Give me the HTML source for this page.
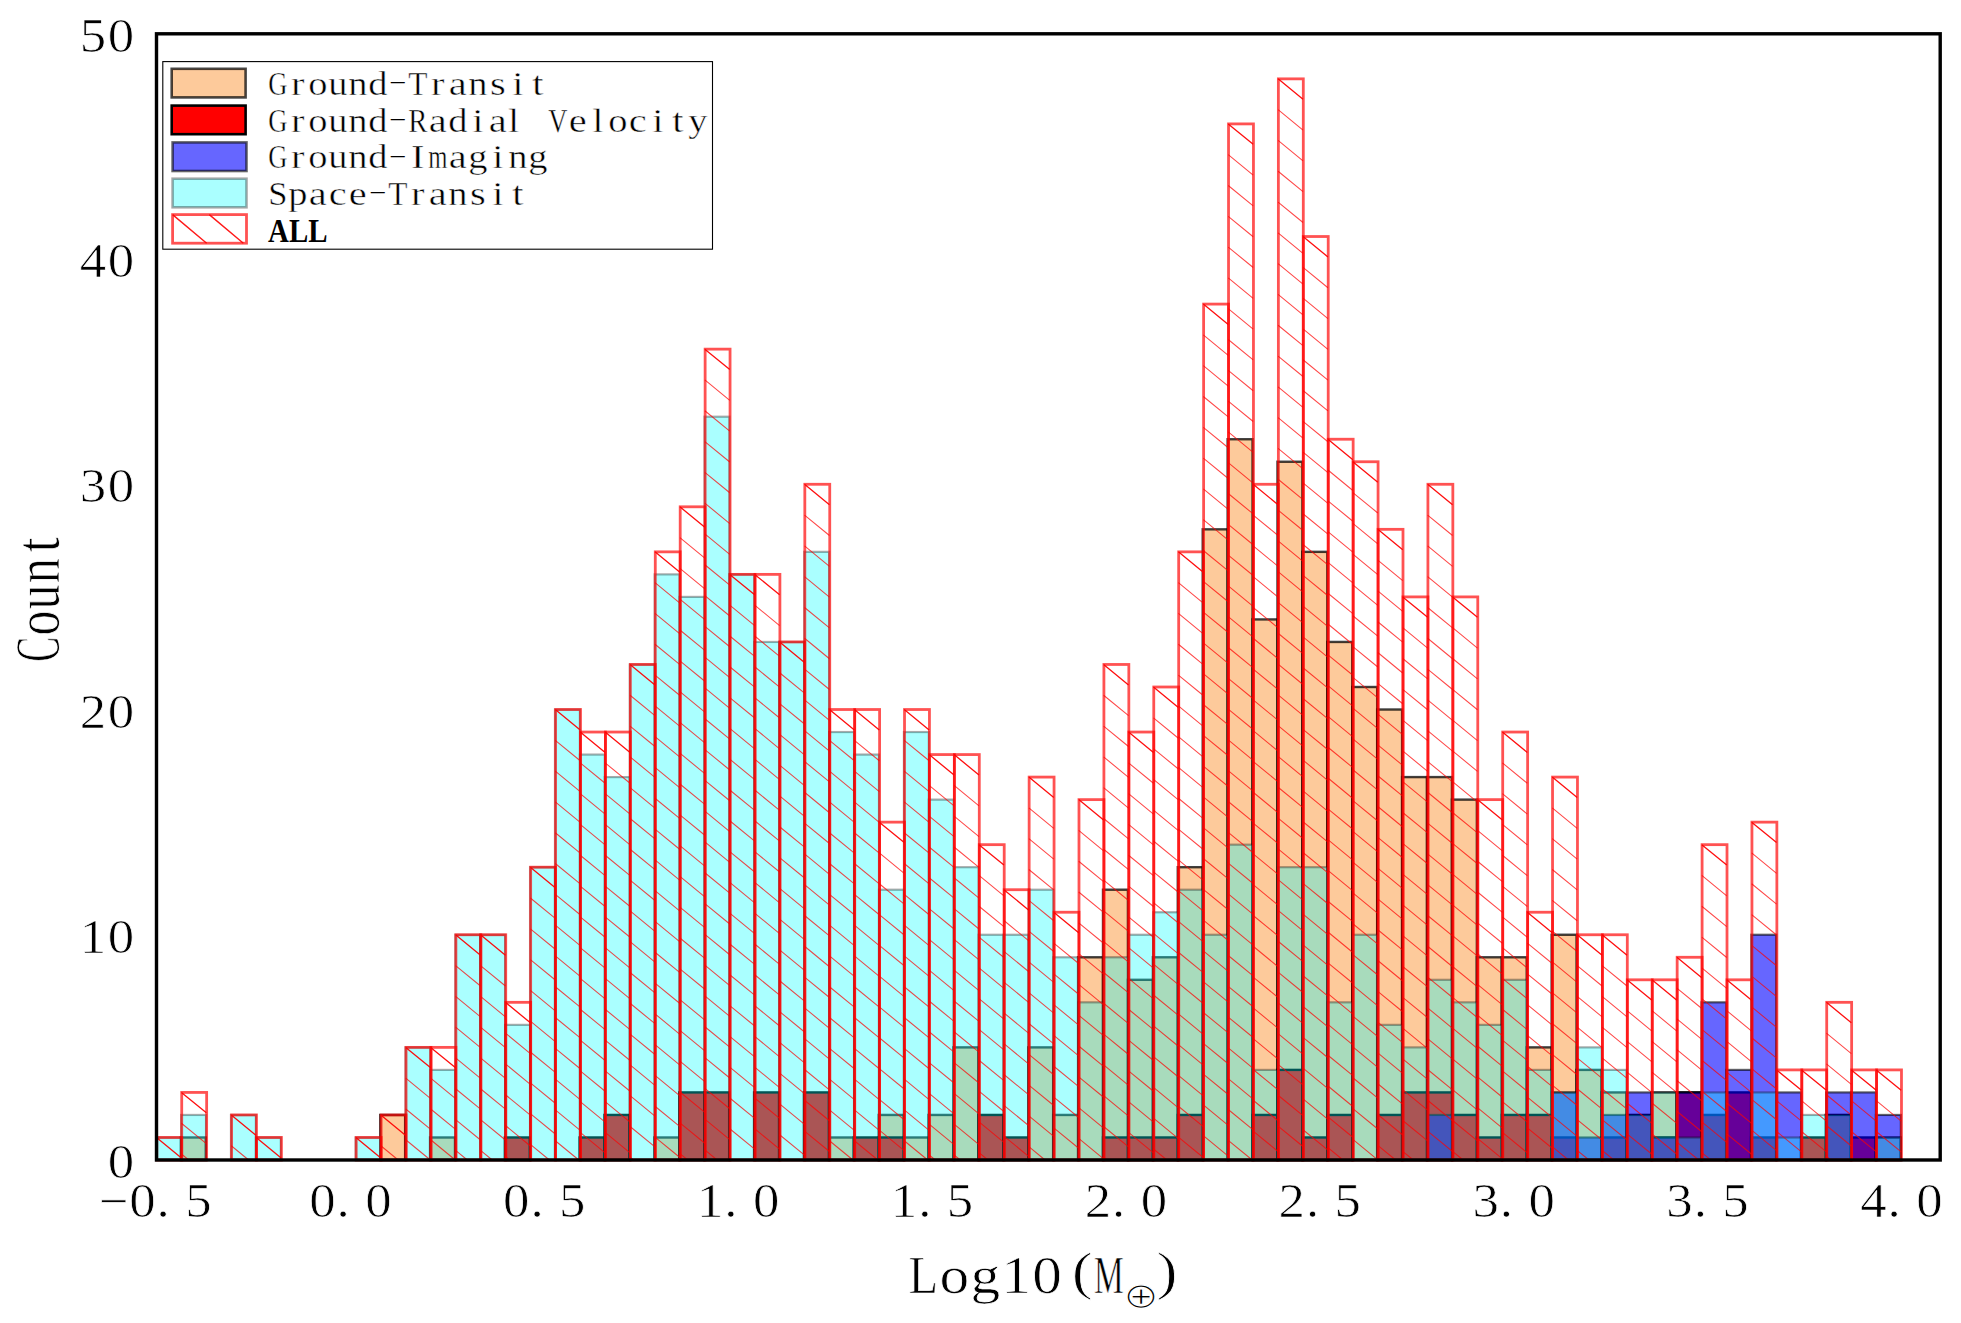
<!DOCTYPE html>
<html lang="en"><head><meta charset="utf-8"><title>Histogram</title><style>html,body{margin:0;padding:0;background:#fff}body{width:1961px;height:1323px;overflow:hidden}svg{display:block}</style></head><body>
<svg width="1961" height="1323" viewBox="0 0 1961 1323"><rect width="1961" height="1323" fill="#fff"/><g shape-rendering="auto"><g fill="#FDCA9B" stroke="rgba(0,0,0,0.75)" stroke-width="2.4"><rect x="180.82" y="1137.48" width="24.92" height="22.52"/><rect x="380.22" y="1114.95" width="24.92" height="45.05"/><rect x="430.06" y="1137.48" width="24.92" height="22.52"/><rect x="654.38" y="1137.48" width="24.92" height="22.52"/><rect x="828.85" y="1137.48" width="24.92" height="22.52"/><rect x="878.7" y="1114.95" width="24.92" height="45.05"/><rect x="903.62" y="1137.48" width="24.92" height="22.52"/><rect x="928.54" y="1114.95" width="24.92" height="45.05"/><rect x="953.47" y="1047.38" width="24.92" height="112.62"/><rect x="1028.24" y="1047.38" width="24.92" height="112.62"/><rect x="1053.16" y="1114.95" width="24.92" height="45.05"/><rect x="1078.09" y="957.28" width="24.92" height="202.72"/><rect x="1103.01" y="889.71" width="24.92" height="270.29"/><rect x="1127.94" y="979.81" width="24.92" height="180.19"/><rect x="1152.86" y="957.28" width="24.92" height="202.72"/><rect x="1177.78" y="867.19" width="24.92" height="292.81"/><rect x="1202.71" y="529.33" width="24.92" height="630.67"/><rect x="1227.63" y="439.23" width="24.92" height="720.77"/><rect x="1252.56" y="619.42" width="24.92" height="540.58"/><rect x="1277.48" y="461.76" width="24.92" height="698.24"/><rect x="1302.4" y="551.85" width="24.92" height="608.15"/><rect x="1327.33" y="641.95" width="24.92" height="518.05"/><rect x="1352.25" y="687" width="24.92" height="473"/><rect x="1377.18" y="709.52" width="24.92" height="450.48"/><rect x="1402.1" y="777.09" width="24.92" height="382.91"/><rect x="1427.02" y="777.09" width="24.92" height="382.91"/><rect x="1451.95" y="799.62" width="24.92" height="360.38"/><rect x="1476.87" y="957.28" width="24.92" height="202.72"/><rect x="1501.8" y="957.28" width="24.92" height="202.72"/><rect x="1526.72" y="1047.38" width="24.92" height="112.62"/><rect x="1551.64" y="934.76" width="24.92" height="225.24"/><rect x="1576.57" y="1069.9" width="24.92" height="90.1"/><rect x="1601.49" y="1092.43" width="24.92" height="67.57"/><rect x="1651.34" y="1092.43" width="24.92" height="67.57"/><rect x="1875.66" y="1137.48" width="24.92" height="22.52"/></g>
<g fill="#FF0000" stroke="#000" stroke-width="2.4"><rect x="504.84" y="1137.48" width="24.92" height="22.52"/><rect x="579.61" y="1137.48" width="24.92" height="22.52"/><rect x="604.53" y="1114.95" width="24.92" height="45.05"/><rect x="679.3" y="1092.43" width="24.92" height="67.57"/><rect x="704.23" y="1092.43" width="24.92" height="67.57"/><rect x="754.08" y="1092.43" width="24.92" height="67.57"/><rect x="803.92" y="1092.43" width="24.92" height="67.57"/><rect x="853.77" y="1137.48" width="24.92" height="22.52"/><rect x="878.7" y="1137.48" width="24.92" height="22.52"/><rect x="978.39" y="1114.95" width="24.92" height="45.05"/><rect x="1003.32" y="1137.48" width="24.92" height="22.52"/><rect x="1103.01" y="1137.48" width="24.92" height="22.52"/><rect x="1127.94" y="1137.48" width="24.92" height="22.52"/><rect x="1152.86" y="1137.48" width="24.92" height="22.52"/><rect x="1177.78" y="1114.95" width="24.92" height="45.05"/><rect x="1252.56" y="1114.95" width="24.92" height="45.05"/><rect x="1277.48" y="1069.9" width="24.92" height="90.1"/><rect x="1302.4" y="1137.48" width="24.92" height="22.52"/><rect x="1327.33" y="1114.95" width="24.92" height="45.05"/><rect x="1377.18" y="1114.95" width="24.92" height="45.05"/><rect x="1402.1" y="1092.43" width="24.92" height="67.57"/><rect x="1427.02" y="1092.43" width="24.92" height="67.57"/><rect x="1451.95" y="1114.95" width="24.92" height="45.05"/><rect x="1476.87" y="1137.48" width="24.92" height="22.52"/><rect x="1501.8" y="1114.95" width="24.92" height="45.05"/><rect x="1526.72" y="1114.95" width="24.92" height="45.05"/><rect x="1551.64" y="1137.48" width="24.92" height="22.52"/><rect x="1601.49" y="1137.48" width="24.92" height="22.52"/><rect x="1626.42" y="1114.95" width="24.92" height="45.05"/><rect x="1651.34" y="1137.48" width="24.92" height="22.52"/><rect x="1676.26" y="1092.43" width="24.92" height="67.57"/><rect x="1701.19" y="1114.95" width="24.92" height="45.05"/><rect x="1726.11" y="1092.43" width="24.92" height="67.57"/><rect x="1751.04" y="1137.48" width="24.92" height="22.52"/><rect x="1800.88" y="1137.48" width="24.92" height="22.52"/><rect x="1825.81" y="1114.95" width="24.92" height="45.05"/><rect x="1850.73" y="1137.48" width="24.92" height="22.52"/></g>
<g fill="rgba(0,0,255,0.6)" stroke="rgba(0,0,0,0.6)" stroke-width="2.2"><rect x="1427.32" y="1114.95" width="24.92" height="45.05"/><rect x="1551.94" y="1092.43" width="24.92" height="67.57"/><rect x="1576.87" y="1137.48" width="24.92" height="22.52"/><rect x="1601.79" y="1114.95" width="24.92" height="45.05"/><rect x="1626.72" y="1092.43" width="24.92" height="67.57"/><rect x="1651.64" y="1137.48" width="24.92" height="22.52"/><rect x="1676.56" y="1092.43" width="24.92" height="67.57"/><rect x="1701.49" y="1002.33" width="24.92" height="157.67"/><rect x="1726.41" y="1069.9" width="24.92" height="90.1"/><rect x="1751.34" y="934.76" width="24.92" height="225.24"/><rect x="1776.26" y="1092.43" width="24.92" height="67.57"/><rect x="1826.11" y="1092.43" width="24.92" height="67.57"/><rect x="1851.03" y="1092.43" width="24.92" height="67.57"/><rect x="1875.96" y="1114.95" width="24.92" height="45.05"/></g>
<g fill="rgba(0,255,255,0.333)" stroke="rgba(0,0,0,0.333)" stroke-width="2.2"><rect x="156.2" y="1137.48" width="24.92" height="22.52"/><rect x="181.12" y="1114.95" width="24.92" height="45.05"/><rect x="230.97" y="1114.95" width="24.92" height="45.05"/><rect x="255.9" y="1137.48" width="24.92" height="22.52"/><rect x="355.59" y="1137.48" width="24.92" height="22.52"/><rect x="405.44" y="1047.38" width="24.92" height="112.62"/><rect x="430.36" y="1069.9" width="24.92" height="90.1"/><rect x="455.29" y="934.76" width="24.92" height="225.24"/><rect x="480.21" y="934.76" width="24.92" height="225.24"/><rect x="505.14" y="1024.86" width="24.92" height="135.14"/><rect x="530.06" y="867.19" width="24.92" height="292.81"/><rect x="554.98" y="709.52" width="24.92" height="450.48"/><rect x="579.91" y="754.57" width="24.92" height="405.43"/><rect x="604.83" y="777.09" width="24.92" height="382.91"/><rect x="629.76" y="664.47" width="24.92" height="495.53"/><rect x="654.68" y="574.38" width="24.92" height="585.62"/><rect x="679.6" y="596.9" width="24.92" height="563.1"/><rect x="704.53" y="416.71" width="24.92" height="743.29"/><rect x="729.45" y="574.38" width="24.92" height="585.62"/><rect x="754.38" y="641.95" width="24.92" height="518.05"/><rect x="779.3" y="641.95" width="24.92" height="518.05"/><rect x="804.22" y="551.85" width="24.92" height="608.15"/><rect x="829.15" y="732.04" width="24.92" height="427.96"/><rect x="854.07" y="754.57" width="24.92" height="405.43"/><rect x="879" y="889.71" width="24.92" height="270.29"/><rect x="903.92" y="732.04" width="24.92" height="427.96"/><rect x="928.84" y="799.62" width="24.92" height="360.38"/><rect x="953.77" y="867.19" width="24.92" height="292.81"/><rect x="978.69" y="934.76" width="24.92" height="225.24"/><rect x="1003.62" y="934.76" width="24.92" height="225.24"/><rect x="1028.54" y="889.71" width="24.92" height="270.29"/><rect x="1053.46" y="957.28" width="24.92" height="202.72"/><rect x="1078.39" y="1002.33" width="24.92" height="157.67"/><rect x="1103.31" y="957.28" width="24.92" height="202.72"/><rect x="1128.24" y="934.76" width="24.92" height="225.24"/><rect x="1153.16" y="912.24" width="24.92" height="247.76"/><rect x="1178.08" y="889.71" width="24.92" height="270.29"/><rect x="1203.01" y="934.76" width="24.92" height="225.24"/><rect x="1227.93" y="844.66" width="24.92" height="315.34"/><rect x="1252.86" y="1069.9" width="24.92" height="90.1"/><rect x="1277.78" y="867.19" width="24.92" height="292.81"/><rect x="1302.7" y="867.19" width="24.92" height="292.81"/><rect x="1327.63" y="1002.33" width="24.92" height="157.67"/><rect x="1352.55" y="934.76" width="24.92" height="225.24"/><rect x="1377.48" y="1024.86" width="24.92" height="135.14"/><rect x="1402.4" y="1047.38" width="24.92" height="112.62"/><rect x="1427.32" y="979.81" width="24.92" height="180.19"/><rect x="1452.25" y="1002.33" width="24.92" height="157.67"/><rect x="1477.17" y="1024.86" width="24.92" height="135.14"/><rect x="1502.1" y="979.81" width="24.92" height="180.19"/><rect x="1527.02" y="1069.9" width="24.92" height="90.1"/><rect x="1551.94" y="1092.43" width="24.92" height="67.57"/><rect x="1576.87" y="1047.38" width="24.92" height="112.62"/><rect x="1601.79" y="1069.9" width="24.92" height="90.1"/><rect x="1626.72" y="1114.95" width="24.92" height="45.05"/><rect x="1651.64" y="1092.43" width="24.92" height="67.57"/><rect x="1676.56" y="1137.48" width="24.92" height="22.52"/><rect x="1701.49" y="1092.43" width="24.92" height="67.57"/><rect x="1751.34" y="1092.43" width="24.92" height="67.57"/><rect x="1776.26" y="1137.48" width="24.92" height="22.52"/><rect x="1801.18" y="1114.95" width="24.92" height="45.05"/><rect x="1826.11" y="1114.95" width="24.92" height="45.05"/><rect x="1875.96" y="1137.48" width="24.92" height="22.52"/></g>
<path d="M156.5 1137.48L181.42 1157.91M181.42 1092.43L206.35 1112.87M231.27 1114.95L256.2 1135.39M256.2 1137.48L281.12 1157.91M355.89 1137.48L380.82 1157.91M380.82 1114.95L405.74 1135.39M405.74 1047.38L430.66 1067.82M430.66 1047.38L455.59 1067.82M455.59 934.76L480.51 955.2M480.51 934.76L505.44 955.2M505.44 1002.33L530.36 1022.77M530.36 867.19L555.28 887.63M555.28 709.52L580.21 729.96M580.21 732.04L605.13 752.48M605.13 732.04L630.06 752.48M630.06 664.47L654.98 684.91M654.98 551.85L679.9 572.29M679.9 506.8L704.83 527.24M704.83 349.14L729.75 369.57M729.75 574.38L754.68 594.81M754.68 574.38L779.6 594.81M779.6 641.95L804.52 662.39M804.52 484.28L829.45 504.72M829.45 709.52L854.37 729.96M854.37 709.52L879.3 729.96M879.3 822.14L904.22 842.58M904.22 709.52L929.14 729.96M929.14 754.57L954.07 775.01M954.07 754.57L978.99 775.01M978.99 844.66L1003.92 865.1M1003.92 889.71L1028.84 910.15M1028.84 777.09L1053.76 797.53M1053.76 912.24L1078.69 932.67M1078.69 799.62L1103.61 820.05M1103.61 664.47L1128.54 684.91M1128.54 732.04L1153.46 752.48M1153.46 687L1178.38 707.43M1178.38 551.85L1203.31 572.29M1203.31 304.09L1228.23 324.53M1228.23 123.9L1253.16 144.33M1253.16 484.28L1278.08 504.72M1278.08 78.85L1303 99.29M1303 236.52L1327.93 256.95M1327.93 439.23L1352.85 459.67M1352.85 461.76L1377.78 482.19M1377.78 529.33L1402.7 549.77M1402.7 596.9L1427.62 617.34M1427.62 484.28L1452.55 504.72M1452.55 596.9L1477.47 617.34M1477.47 799.62L1502.4 820.05M1502.4 732.04L1527.32 752.48M1527.32 912.24L1552.24 932.67M1552.24 777.09L1577.17 797.53M1577.17 934.76L1602.09 955.2M1602.09 934.76L1627.02 955.2M1627.02 979.81L1651.94 1000.25M1651.94 979.81L1676.86 1000.25M1676.86 957.28L1701.79 977.72M1701.79 844.66L1726.71 865.1M1726.71 979.81L1751.64 1000.25M1751.64 822.14L1776.56 842.58M1776.56 1069.9L1801.48 1090.34M1801.48 1069.9L1826.41 1090.34M1826.41 1002.33L1851.33 1022.77M1851.33 1069.9L1876.26 1090.34M1876.26 1069.9L1901.18 1090.34" fill="none" stroke="rgba(255,0,0,0.95)" stroke-width="1.3"/>
<path d="M181.42 1123.23L206.35 1143.67M181.42 1154.03L188.71 1160M231.27 1145.75L248.65 1160M380.82 1145.75L398.19 1160M405.74 1078.18L430.66 1098.62M405.74 1108.98L430.66 1129.42M405.74 1139.78L430.4 1160M430.66 1078.18L455.59 1098.62M430.66 1108.98L455.59 1129.42M430.66 1139.78L455.32 1160M455.59 965.56L480.51 986M455.59 996.36L480.51 1016.8M455.59 1027.16L480.51 1047.6M455.59 1057.96L480.51 1078.4M455.59 1088.76L480.51 1109.2M455.59 1119.56L480.51 1140M455.59 1150.36L467.34 1160M480.51 965.56L505.44 986M480.51 996.36L505.44 1016.8M480.51 1027.16L505.44 1047.6M480.51 1057.96L505.44 1078.4M480.51 1088.76L505.44 1109.2M480.51 1119.56L505.44 1140M480.51 1150.36L492.27 1160M505.44 1033.13L530.36 1053.57M505.44 1063.93L530.36 1084.37M505.44 1094.73L530.36 1115.17M505.44 1125.53L530.36 1145.97M505.44 1156.33L509.91 1160M530.36 897.99L555.28 918.43M530.36 928.79L555.28 949.23M530.36 959.59L555.28 980.03M530.36 990.39L555.28 1010.83M530.36 1021.19L555.28 1041.63M530.36 1051.99L555.28 1072.43M530.36 1082.79L555.28 1103.23M530.36 1113.59L555.28 1134.03M530.36 1144.39L549.4 1160M555.28 740.32L580.21 760.76M555.28 771.12L580.21 791.56M555.28 801.92L580.21 822.36M555.28 832.72L580.21 853.16M555.28 863.52L580.21 883.96M555.28 894.32L580.21 914.76M555.28 925.12L580.21 945.56M555.28 955.92L580.21 976.36M555.28 986.72L580.21 1007.16M555.28 1017.52L580.21 1037.96M555.28 1048.32L580.21 1068.76M555.28 1079.12L580.21 1099.56M555.28 1109.92L580.21 1130.36M555.28 1140.72L578.8 1160M580.21 762.84L605.13 783.28M580.21 793.64L605.13 814.08M580.21 824.44L605.13 844.88M580.21 855.24L605.13 875.68M580.21 886.04L605.13 906.48M580.21 916.84L605.13 937.28M580.21 947.64L605.13 968.08M580.21 978.44L605.13 998.88M580.21 1009.24L605.13 1029.68M580.21 1040.04L605.13 1060.48M580.21 1070.84L605.13 1091.28M580.21 1101.64L605.13 1122.08M580.21 1132.44L605.13 1152.88M605.13 762.84L630.06 783.28M605.13 793.64L630.06 814.08M605.13 824.44L630.06 844.88M605.13 855.24L630.06 875.68M605.13 886.04L630.06 906.48M605.13 916.84L630.06 937.28M605.13 947.64L630.06 968.08M605.13 978.44L630.06 998.88M605.13 1009.24L630.06 1029.68M605.13 1040.04L630.06 1060.48M605.13 1070.84L630.06 1091.28M605.13 1101.64L630.06 1122.08M605.13 1132.44L630.06 1152.88M630.06 695.27L654.98 715.71M630.06 726.07L654.98 746.51M630.06 756.87L654.98 777.31M630.06 787.67L654.98 808.11M630.06 818.47L654.98 838.91M630.06 849.27L654.98 869.71M630.06 880.07L654.98 900.51M630.06 910.87L654.98 931.31M630.06 941.67L654.98 962.11M630.06 972.47L654.98 992.91M630.06 1003.27L654.98 1023.71M630.06 1034.07L654.98 1054.51M630.06 1064.87L654.98 1085.31M630.06 1095.67L654.98 1116.11M630.06 1126.47L654.98 1146.91M630.06 1157.27L633.38 1160M654.98 582.65L679.9 603.09M654.98 613.45L679.9 633.89M654.98 644.25L679.9 664.69M654.98 675.05L679.9 695.49M654.98 705.85L679.9 726.29M654.98 736.65L679.9 757.09M654.98 767.45L679.9 787.89M654.98 798.25L679.9 818.69M654.98 829.05L679.9 849.49M654.98 859.85L679.9 880.29M654.98 890.65L679.9 911.09M654.98 921.45L679.9 941.89M654.98 952.25L679.9 972.69M654.98 983.05L679.9 1003.49M654.98 1013.85L679.9 1034.29M654.98 1044.65L679.9 1065.09M654.98 1075.45L679.9 1095.89M654.98 1106.25L679.9 1126.69M654.98 1137.05L679.9 1157.49M679.9 537.6L704.83 558.04M679.9 568.4L704.83 588.84M679.9 599.2L704.83 619.64M679.9 630L704.83 650.44M679.9 660.8L704.83 681.24M679.9 691.6L704.83 712.04M679.9 722.4L704.83 742.84M679.9 753.2L704.83 773.64M679.9 784L704.83 804.44M679.9 814.8L704.83 835.24M679.9 845.6L704.83 866.04M679.9 876.4L704.83 896.84M679.9 907.2L704.83 927.64M679.9 938L704.83 958.44M679.9 968.8L704.83 989.24M679.9 999.6L704.83 1020.04M679.9 1030.4L704.83 1050.84M679.9 1061.2L704.83 1081.64M679.9 1092L704.83 1112.44M679.9 1122.8L704.83 1143.24M679.9 1153.6L687.7 1160M704.83 379.94L729.75 400.37M704.83 410.74L729.75 431.17M704.83 441.54L729.75 461.97M704.83 472.34L729.75 492.77M704.83 503.14L729.75 523.57M704.83 533.94L729.75 554.37M704.83 564.74L729.75 585.17M704.83 595.54L729.75 615.97M704.83 626.34L729.75 646.77M704.83 657.14L729.75 677.57M704.83 687.94L729.75 708.37M704.83 718.74L729.75 739.17M704.83 749.54L729.75 769.97M704.83 780.34L729.75 800.77M704.83 811.14L729.75 831.57M704.83 841.94L729.75 862.37M704.83 872.74L729.75 893.17M704.83 903.54L729.75 923.97M704.83 934.34L729.75 954.77M704.83 965.14L729.75 985.57M704.83 995.94L729.75 1016.37M704.83 1026.74L729.75 1047.17M704.83 1057.54L729.75 1077.97M704.83 1088.34L729.75 1108.77M704.83 1119.14L729.75 1139.57M704.83 1149.94L717.1 1160M729.75 605.18L754.68 625.61M729.75 635.98L754.68 656.41M729.75 666.78L754.68 687.21M729.75 697.58L754.68 718.01M729.75 728.38L754.68 748.81M729.75 759.18L754.68 779.61M729.75 789.98L754.68 810.41M729.75 820.78L754.68 841.21M729.75 851.58L754.68 872.01M729.75 882.38L754.68 902.81M729.75 913.18L754.68 933.61M729.75 943.98L754.68 964.41M729.75 974.78L754.68 995.21M729.75 1005.58L754.68 1026.01M729.75 1036.38L754.68 1056.81M729.75 1067.18L754.68 1087.61M729.75 1097.98L754.68 1118.41M729.75 1128.78L754.68 1149.21M729.75 1159.58L730.27 1160M754.68 605.18L779.6 625.61M754.68 635.98L779.6 656.41M754.68 666.78L779.6 687.21M754.68 697.58L779.6 718.01M754.68 728.38L779.6 748.81M754.68 759.18L779.6 779.61M754.68 789.98L779.6 810.41M754.68 820.78L779.6 841.21M754.68 851.58L779.6 872.01M754.68 882.38L779.6 902.81M754.68 913.18L779.6 933.61M754.68 943.98L779.6 964.41M754.68 974.78L779.6 995.21M754.68 1005.58L779.6 1026.01M754.68 1036.38L779.6 1056.81M754.68 1067.18L779.6 1087.61M754.68 1097.98L779.6 1118.41M754.68 1128.78L779.6 1149.21M754.68 1159.58L755.19 1160M779.6 672.75L804.52 693.19M779.6 703.55L804.52 723.99M779.6 734.35L804.52 754.79M779.6 765.15L804.52 785.59M779.6 795.95L804.52 816.39M779.6 826.75L804.52 847.19M779.6 857.55L804.52 877.99M779.6 888.35L804.52 908.79M779.6 919.15L804.52 939.59M779.6 949.95L804.52 970.39M779.6 980.75L804.52 1001.19M779.6 1011.55L804.52 1031.99M779.6 1042.35L804.52 1062.79M779.6 1073.15L804.52 1093.59M779.6 1103.95L804.52 1124.39M779.6 1134.75L804.52 1155.19M804.52 515.08L829.45 535.52M804.52 545.88L829.45 566.32M804.52 576.68L829.45 597.12M804.52 607.48L829.45 627.92M804.52 638.28L829.45 658.72M804.52 669.08L829.45 689.52M804.52 699.88L829.45 720.32M804.52 730.68L829.45 751.12M804.52 761.48L829.45 781.92M804.52 792.28L829.45 812.72M804.52 823.08L829.45 843.52M804.52 853.88L829.45 874.32M804.52 884.68L829.45 905.12M804.52 915.48L829.45 935.92M804.52 946.28L829.45 966.72M804.52 977.08L829.45 997.52M804.52 1007.88L829.45 1028.32M804.52 1038.68L829.45 1059.12M804.52 1069.48L829.45 1089.92M804.52 1100.28L829.45 1120.72M804.52 1131.08L829.45 1151.52M829.45 740.32L854.37 760.76M829.45 771.12L854.37 791.56M829.45 801.92L854.37 822.36M829.45 832.72L854.37 853.16M829.45 863.52L854.37 883.96M829.45 894.32L854.37 914.76M829.45 925.12L854.37 945.56M829.45 955.92L854.37 976.36M829.45 986.72L854.37 1007.16M829.45 1017.52L854.37 1037.96M829.45 1048.32L854.37 1068.76M829.45 1079.12L854.37 1099.56M829.45 1109.92L854.37 1130.36M829.45 1140.72L852.96 1160M854.37 740.32L879.3 760.76M854.37 771.12L879.3 791.56M854.37 801.92L879.3 822.36M854.37 832.72L879.3 853.16M854.37 863.52L879.3 883.96M854.37 894.32L879.3 914.76M854.37 925.12L879.3 945.56M854.37 955.92L879.3 976.36M854.37 986.72L879.3 1007.16M854.37 1017.52L879.3 1037.96M854.37 1048.32L879.3 1068.76M854.37 1079.12L879.3 1099.56M854.37 1109.92L879.3 1130.36M854.37 1140.72L877.88 1160M879.3 852.94L904.22 873.38M879.3 883.74L904.22 904.18M879.3 914.54L904.22 934.98M879.3 945.34L904.22 965.78M879.3 976.14L904.22 996.58M879.3 1006.94L904.22 1027.38M879.3 1037.74L904.22 1058.18M879.3 1068.54L904.22 1088.98M879.3 1099.34L904.22 1119.78M879.3 1130.14L904.22 1150.58M904.22 740.32L929.14 760.76M904.22 771.12L929.14 791.56M904.22 801.92L929.14 822.36M904.22 832.72L929.14 853.16M904.22 863.52L929.14 883.96M904.22 894.32L929.14 914.76M904.22 925.12L929.14 945.56M904.22 955.92L929.14 976.36M904.22 986.72L929.14 1007.16M904.22 1017.52L929.14 1037.96M904.22 1048.32L929.14 1068.76M904.22 1079.12L929.14 1099.56M904.22 1109.92L929.14 1130.36M904.22 1140.72L927.73 1160M929.14 785.37L954.07 805.81M929.14 816.17L954.07 836.61M929.14 846.97L954.07 867.41M929.14 877.77L954.07 898.21M929.14 908.57L954.07 929.01M929.14 939.37L954.07 959.81M929.14 970.17L954.07 990.61M929.14 1000.97L954.07 1021.41M929.14 1031.77L954.07 1052.21M929.14 1062.57L954.07 1083.01M929.14 1093.37L954.07 1113.81M929.14 1124.17L954.07 1144.61M929.14 1154.97L935.28 1160M954.07 785.37L978.99 805.81M954.07 816.17L978.99 836.61M954.07 846.97L978.99 867.41M954.07 877.77L978.99 898.21M954.07 908.57L978.99 929.01M954.07 939.37L978.99 959.81M954.07 970.17L978.99 990.61M954.07 1000.97L978.99 1021.41M954.07 1031.77L978.99 1052.21M954.07 1062.57L978.99 1083.01M954.07 1093.37L978.99 1113.81M954.07 1124.17L978.99 1144.61M954.07 1154.97L960.2 1160M978.99 875.46L1003.92 895.9M978.99 906.26L1003.92 926.7M978.99 937.06L1003.92 957.5M978.99 967.86L1003.92 988.3M978.99 998.66L1003.92 1019.1M978.99 1029.46L1003.92 1049.9M978.99 1060.26L1003.92 1080.7M978.99 1091.06L1003.92 1111.5M978.99 1121.86L1003.92 1142.3M978.99 1152.66L987.94 1160M1003.92 920.51L1028.84 940.95M1003.92 951.31L1028.84 971.75M1003.92 982.11L1028.84 1002.55M1003.92 1012.91L1028.84 1033.35M1003.92 1043.71L1028.84 1064.15M1003.92 1074.51L1028.84 1094.95M1003.92 1105.31L1028.84 1125.75M1003.92 1136.11L1028.84 1156.55M1028.84 807.89L1053.76 828.33M1028.84 838.69L1053.76 859.13M1028.84 869.49L1053.76 889.93M1028.84 900.29L1053.76 920.73M1028.84 931.09L1053.76 951.53M1028.84 961.89L1053.76 982.33M1028.84 992.69L1053.76 1013.13M1028.84 1023.49L1053.76 1043.93M1028.84 1054.29L1053.76 1074.73M1028.84 1085.09L1053.76 1105.53M1028.84 1115.89L1053.76 1136.33M1028.84 1146.69L1045.07 1160M1053.76 943.04L1078.69 963.47M1053.76 973.84L1078.69 994.27M1053.76 1004.64L1078.69 1025.07M1053.76 1035.44L1078.69 1055.87M1053.76 1066.24L1078.69 1086.67M1053.76 1097.04L1078.69 1117.47M1053.76 1127.84L1078.69 1148.27M1053.76 1158.64L1055.43 1160M1078.69 830.42L1103.61 850.85M1078.69 861.22L1103.61 881.65M1078.69 892.02L1103.61 912.45M1078.69 922.82L1103.61 943.25M1078.69 953.62L1103.61 974.05M1078.69 984.42L1103.61 1004.85M1078.69 1015.22L1103.61 1035.65M1078.69 1046.02L1103.61 1066.45M1078.69 1076.82L1103.61 1097.25M1078.69 1107.62L1103.61 1128.05M1078.69 1138.42L1103.61 1158.85M1103.61 695.27L1128.54 715.71M1103.61 726.07L1128.54 746.51M1103.61 756.87L1128.54 777.31M1103.61 787.67L1128.54 808.11M1103.61 818.47L1128.54 838.91M1103.61 849.27L1128.54 869.71M1103.61 880.07L1128.54 900.51M1103.61 910.87L1128.54 931.31M1103.61 941.67L1128.54 962.11M1103.61 972.47L1128.54 992.91M1103.61 1003.27L1128.54 1023.71M1103.61 1034.07L1128.54 1054.51M1103.61 1064.87L1128.54 1085.31M1103.61 1095.67L1128.54 1116.11M1103.61 1126.47L1128.54 1146.91M1103.61 1157.27L1106.94 1160M1128.54 762.84L1153.46 783.28M1128.54 793.64L1153.46 814.08M1128.54 824.44L1153.46 844.88M1128.54 855.24L1153.46 875.68M1128.54 886.04L1153.46 906.48M1128.54 916.84L1153.46 937.28M1128.54 947.64L1153.46 968.08M1128.54 978.44L1153.46 998.88M1128.54 1009.24L1153.46 1029.68M1128.54 1040.04L1153.46 1060.48M1128.54 1070.84L1153.46 1091.28M1128.54 1101.64L1153.46 1122.08M1128.54 1132.44L1153.46 1152.88M1153.46 717.8L1178.38 738.23M1153.46 748.6L1178.38 769.03M1153.46 779.4L1178.38 799.83M1153.46 810.2L1178.38 830.63M1153.46 841L1178.38 861.43M1153.46 871.8L1178.38 892.23M1153.46 902.6L1178.38 923.03M1153.46 933.4L1178.38 953.83M1153.46 964.2L1178.38 984.63M1153.46 995L1178.38 1015.43M1153.46 1025.8L1178.38 1046.23M1153.46 1056.6L1178.38 1077.03M1153.46 1087.4L1178.38 1107.83M1153.46 1118.2L1178.38 1138.63M1153.46 1149L1166.88 1160M1178.38 582.65L1203.31 603.09M1178.38 613.45L1203.31 633.89M1178.38 644.25L1203.31 664.69M1178.38 675.05L1203.31 695.49M1178.38 705.85L1203.31 726.29M1178.38 736.65L1203.31 757.09M1178.38 767.45L1203.31 787.89M1178.38 798.25L1203.31 818.69M1178.38 829.05L1203.31 849.49M1178.38 859.85L1203.31 880.29M1178.38 890.65L1203.31 911.09M1178.38 921.45L1203.31 941.89M1178.38 952.25L1203.31 972.69M1178.38 983.05L1203.31 1003.49M1178.38 1013.85L1203.31 1034.29M1178.38 1044.65L1203.31 1065.09M1178.38 1075.45L1203.31 1095.89M1178.38 1106.25L1203.31 1126.69M1178.38 1137.05L1203.31 1157.49M1203.31 334.89L1228.23 355.33M1203.31 365.69L1228.23 386.13M1203.31 396.49L1228.23 416.93M1203.31 427.29L1228.23 447.73M1203.31 458.09L1228.23 478.53M1203.31 488.89L1228.23 509.33M1203.31 519.69L1228.23 540.13M1203.31 550.49L1228.23 570.93M1203.31 581.29L1228.23 601.73M1203.31 612.09L1228.23 632.53M1203.31 642.89L1228.23 663.33M1203.31 673.69L1228.23 694.13M1203.31 704.49L1228.23 724.93M1203.31 735.29L1228.23 755.73M1203.31 766.09L1228.23 786.53M1203.31 796.89L1228.23 817.33M1203.31 827.69L1228.23 848.13M1203.31 858.49L1228.23 878.93M1203.31 889.29L1228.23 909.73M1203.31 920.09L1228.23 940.53M1203.31 950.89L1228.23 971.33M1203.31 981.69L1228.23 1002.13M1203.31 1012.49L1228.23 1032.93M1203.31 1043.29L1228.23 1063.73M1203.31 1074.09L1228.23 1094.53M1203.31 1104.89L1228.23 1125.33M1203.31 1135.69L1228.23 1156.13M1228.23 154.7L1253.16 175.13M1228.23 185.5L1253.16 205.93M1228.23 216.3L1253.16 236.73M1228.23 247.1L1253.16 267.53M1228.23 277.9L1253.16 298.33M1228.23 308.7L1253.16 329.13M1228.23 339.5L1253.16 359.93M1228.23 370.3L1253.16 390.73M1228.23 401.1L1253.16 421.53M1228.23 431.9L1253.16 452.33M1228.23 462.7L1253.16 483.13M1228.23 493.5L1253.16 513.93M1228.23 524.3L1253.16 544.73M1228.23 555.1L1253.16 575.53M1228.23 585.9L1253.16 606.33M1228.23 616.7L1253.16 637.13M1228.23 647.5L1253.16 667.93M1228.23 678.3L1253.16 698.73M1228.23 709.1L1253.16 729.53M1228.23 739.9L1253.16 760.33M1228.23 770.7L1253.16 791.13M1228.23 801.5L1253.16 821.93M1228.23 832.3L1253.16 852.73M1228.23 863.1L1253.16 883.53M1228.23 893.9L1253.16 914.33M1228.23 924.7L1253.16 945.13M1228.23 955.5L1253.16 975.93M1228.23 986.3L1253.16 1006.73M1228.23 1017.1L1253.16 1037.53M1228.23 1047.9L1253.16 1068.33M1228.23 1078.7L1253.16 1099.13M1228.23 1109.5L1253.16 1129.93M1228.23 1140.3L1252.26 1160M1253.16 515.08L1278.08 535.52M1253.16 545.88L1278.08 566.32M1253.16 576.68L1278.08 597.12M1253.16 607.48L1278.08 627.92M1253.16 638.28L1278.08 658.72M1253.16 669.08L1278.08 689.52M1253.16 699.88L1278.08 720.32M1253.16 730.68L1278.08 751.12M1253.16 761.48L1278.08 781.92M1253.16 792.28L1278.08 812.72M1253.16 823.08L1278.08 843.52M1253.16 853.88L1278.08 874.32M1253.16 884.68L1278.08 905.12M1253.16 915.48L1278.08 935.92M1253.16 946.28L1278.08 966.72M1253.16 977.08L1278.08 997.52M1253.16 1007.88L1278.08 1028.32M1253.16 1038.68L1278.08 1059.12M1253.16 1069.48L1278.08 1089.92M1253.16 1100.28L1278.08 1120.72M1253.16 1131.08L1278.08 1151.52M1278.08 109.65L1303 130.09M1278.08 140.45L1303 160.89M1278.08 171.25L1303 191.69M1278.08 202.05L1303 222.49M1278.08 232.85L1303 253.29M1278.08 263.65L1303 284.09M1278.08 294.45L1303 314.89M1278.08 325.25L1303 345.69M1278.08 356.05L1303 376.49M1278.08 386.85L1303 407.29M1278.08 417.65L1303 438.09M1278.08 448.45L1303 468.89M1278.08 479.25L1303 499.69M1278.08 510.05L1303 530.49M1278.08 540.85L1303 561.29M1278.08 571.65L1303 592.09M1278.08 602.45L1303 622.89M1278.08 633.25L1303 653.69M1278.08 664.05L1303 684.49M1278.08 694.85L1303 715.29M1278.08 725.65L1303 746.09M1278.08 756.45L1303 776.89M1278.08 787.25L1303 807.69M1278.08 818.05L1303 838.49M1278.08 848.85L1303 869.29M1278.08 879.65L1303 900.09M1278.08 910.45L1303 930.89M1278.08 941.25L1303 961.69M1278.08 972.05L1303 992.49M1278.08 1002.85L1303 1023.29M1278.08 1033.65L1303 1054.09M1278.08 1064.45L1303 1084.89M1278.08 1095.25L1303 1115.69M1278.08 1126.05L1303 1146.49M1278.08 1156.85L1281.92 1160M1303 267.32L1327.93 287.75M1303 298.12L1327.93 318.55M1303 328.92L1327.93 349.35M1303 359.72L1327.93 380.15M1303 390.52L1327.93 410.95M1303 421.32L1327.93 441.75M1303 452.12L1327.93 472.55M1303 482.92L1327.93 503.35M1303 513.72L1327.93 534.15M1303 544.52L1327.93 564.95M1303 575.32L1327.93 595.75M1303 606.12L1327.93 626.55M1303 636.92L1327.93 657.35M1303 667.72L1327.93 688.15M1303 698.52L1327.93 718.95M1303 729.32L1327.93 749.75M1303 760.12L1327.93 780.55M1303 790.92L1327.93 811.35M1303 821.72L1327.93 842.15M1303 852.52L1327.93 872.95M1303 883.32L1327.93 903.75M1303 914.12L1327.93 934.55M1303 944.92L1327.93 965.35M1303 975.72L1327.93 996.15M1303 1006.52L1327.93 1026.95M1303 1037.32L1327.93 1057.75M1303 1068.12L1327.93 1088.55M1303 1098.92L1327.93 1119.35M1303 1129.72L1327.93 1150.15M1327.93 470.03L1352.85 490.47M1327.93 500.83L1352.85 521.27M1327.93 531.63L1352.85 552.07M1327.93 562.43L1352.85 582.87M1327.93 593.23L1352.85 613.67M1327.93 624.03L1352.85 644.47M1327.93 654.83L1352.85 675.27M1327.93 685.63L1352.85 706.07M1327.93 716.43L1352.85 736.87M1327.93 747.23L1352.85 767.67M1327.93 778.03L1352.85 798.47M1327.93 808.83L1352.85 829.27M1327.93 839.63L1352.85 860.07M1327.93 870.43L1352.85 890.87M1327.93 901.23L1352.85 921.67M1327.93 932.03L1352.85 952.47M1327.93 962.83L1352.85 983.27M1327.93 993.63L1352.85 1014.07M1327.93 1024.43L1352.85 1044.87M1327.93 1055.23L1352.85 1075.67M1327.93 1086.03L1352.85 1106.47M1327.93 1116.83L1352.85 1137.27M1327.93 1147.63L1343.01 1160M1352.85 492.56L1377.78 512.99M1352.85 523.36L1377.78 543.79M1352.85 554.16L1377.78 574.59M1352.85 584.96L1377.78 605.39M1352.85 615.76L1377.78 636.19M1352.85 646.56L1377.78 666.99M1352.85 677.36L1377.78 697.79M1352.85 708.16L1377.78 728.59M1352.85 738.96L1377.78 759.39M1352.85 769.76L1377.78 790.19M1352.85 800.56L1377.78 820.99M1352.85 831.36L1377.78 851.79M1352.85 862.16L1377.78 882.59M1352.85 892.96L1377.78 913.39M1352.85 923.76L1377.78 944.19M1352.85 954.56L1377.78 974.99M1352.85 985.36L1377.78 1005.79M1352.85 1016.16L1377.78 1036.59M1352.85 1046.96L1377.78 1067.39M1352.85 1077.76L1377.78 1098.19M1352.85 1108.56L1377.78 1128.99M1352.85 1139.36L1377.78 1159.79M1377.78 560.13L1402.7 580.57M1377.78 590.93L1402.7 611.37M1377.78 621.73L1402.7 642.17M1377.78 652.53L1402.7 672.97M1377.78 683.33L1402.7 703.77M1377.78 714.13L1402.7 734.57M1377.78 744.93L1402.7 765.37M1377.78 775.73L1402.7 796.17M1377.78 806.53L1402.7 826.97M1377.78 837.33L1402.7 857.77M1377.78 868.13L1402.7 888.57M1377.78 898.93L1402.7 919.37M1377.78 929.73L1402.7 950.17M1377.78 960.53L1402.7 980.97M1377.78 991.33L1402.7 1011.77M1377.78 1022.13L1402.7 1042.57M1377.78 1052.93L1402.7 1073.37M1377.78 1083.73L1402.7 1104.17M1377.78 1114.53L1402.7 1134.97M1377.78 1145.33L1395.67 1160M1402.7 627.7L1427.62 648.14M1402.7 658.5L1427.62 678.94M1402.7 689.3L1427.62 709.74M1402.7 720.1L1427.62 740.54M1402.7 750.9L1427.62 771.34M1402.7 781.7L1427.62 802.14M1402.7 812.5L1427.62 832.94M1402.7 843.3L1427.62 863.74M1402.7 874.1L1427.62 894.54M1402.7 904.9L1427.62 925.34M1402.7 935.7L1427.62 956.14M1402.7 966.5L1427.62 986.94M1402.7 997.3L1427.62 1017.74M1402.7 1028.1L1427.62 1048.54M1402.7 1058.9L1427.62 1079.34M1402.7 1089.7L1427.62 1110.14M1402.7 1120.5L1427.62 1140.94M1402.7 1151.3L1413.31 1160M1427.62 515.08L1452.55 535.52M1427.62 545.88L1452.55 566.32M1427.62 576.68L1452.55 597.12M1427.62 607.48L1452.55 627.92M1427.62 638.28L1452.55 658.72M1427.62 669.08L1452.55 689.52M1427.62 699.88L1452.55 720.32M1427.62 730.68L1452.55 751.12M1427.62 761.48L1452.55 781.92M1427.62 792.28L1452.55 812.72M1427.62 823.08L1452.55 843.52M1427.62 853.88L1452.55 874.32M1427.62 884.68L1452.55 905.12M1427.62 915.48L1452.55 935.92M1427.62 946.28L1452.55 966.72M1427.62 977.08L1452.55 997.52M1427.62 1007.88L1452.55 1028.32M1427.62 1038.68L1452.55 1059.12M1427.62 1069.48L1452.55 1089.92M1427.62 1100.28L1452.55 1120.72M1427.62 1131.08L1452.55 1151.52M1452.55 627.7L1477.47 648.14M1452.55 658.5L1477.47 678.94M1452.55 689.3L1477.47 709.74M1452.55 720.1L1477.47 740.54M1452.55 750.9L1477.47 771.34M1452.55 781.7L1477.47 802.14M1452.55 812.5L1477.47 832.94M1452.55 843.3L1477.47 863.74M1452.55 874.1L1477.47 894.54M1452.55 904.9L1477.47 925.34M1452.55 935.7L1477.47 956.14M1452.55 966.5L1477.47 986.94M1452.55 997.3L1477.47 1017.74M1452.55 1028.1L1477.47 1048.54M1452.55 1058.9L1477.47 1079.34M1452.55 1089.7L1477.47 1110.14M1452.55 1120.5L1477.47 1140.94M1452.55 1151.3L1463.16 1160M1477.47 830.42L1502.4 850.85M1477.47 861.22L1502.4 881.65M1477.47 892.02L1502.4 912.45M1477.47 922.82L1502.4 943.25M1477.47 953.62L1502.4 974.05M1477.47 984.42L1502.4 1004.85M1477.47 1015.22L1502.4 1035.65M1477.47 1046.02L1502.4 1066.45M1477.47 1076.82L1502.4 1097.25M1477.47 1107.62L1502.4 1128.05M1477.47 1138.42L1502.4 1158.85M1502.4 762.84L1527.32 783.28M1502.4 793.64L1527.32 814.08M1502.4 824.44L1527.32 844.88M1502.4 855.24L1527.32 875.68M1502.4 886.04L1527.32 906.48M1502.4 916.84L1527.32 937.28M1502.4 947.64L1527.32 968.08M1502.4 978.44L1527.32 998.88M1502.4 1009.24L1527.32 1029.68M1502.4 1040.04L1527.32 1060.48M1502.4 1070.84L1527.32 1091.28M1502.4 1101.64L1527.32 1122.08M1502.4 1132.44L1527.32 1152.88M1527.32 943.04L1552.24 963.47M1527.32 973.84L1552.24 994.27M1527.32 1004.64L1552.24 1025.07M1527.32 1035.44L1552.24 1055.87M1527.32 1066.24L1552.24 1086.67M1527.32 1097.04L1552.24 1117.47M1527.32 1127.84L1552.24 1148.27M1527.32 1158.64L1528.98 1160M1552.24 807.89L1577.17 828.33M1552.24 838.69L1577.17 859.13M1552.24 869.49L1577.17 889.93M1552.24 900.29L1577.17 920.73M1552.24 931.09L1577.17 951.53M1552.24 961.89L1577.17 982.33M1552.24 992.69L1577.17 1013.13M1552.24 1023.49L1577.17 1043.93M1552.24 1054.29L1577.17 1074.73M1552.24 1085.09L1577.17 1105.53M1552.24 1115.89L1577.17 1136.33M1552.24 1146.69L1568.47 1160M1577.17 965.56L1602.09 986M1577.17 996.36L1602.09 1016.8M1577.17 1027.16L1602.09 1047.6M1577.17 1057.96L1602.09 1078.4M1577.17 1088.76L1602.09 1109.2M1577.17 1119.56L1602.09 1140M1577.17 1150.36L1588.92 1160M1602.09 965.56L1627.02 986M1602.09 996.36L1627.02 1016.8M1602.09 1027.16L1627.02 1047.6M1602.09 1057.96L1627.02 1078.4M1602.09 1088.76L1627.02 1109.2M1602.09 1119.56L1627.02 1140M1602.09 1150.36L1613.85 1160M1627.02 1010.61L1651.94 1031.05M1627.02 1041.41L1651.94 1061.85M1627.02 1072.21L1651.94 1092.65M1627.02 1103.01L1651.94 1123.45M1627.02 1133.81L1651.94 1154.25M1651.94 1010.61L1676.86 1031.05M1651.94 1041.41L1676.86 1061.85M1651.94 1072.21L1676.86 1092.65M1651.94 1103.01L1676.86 1123.45M1651.94 1133.81L1676.86 1154.25M1676.86 988.08L1701.79 1008.52M1676.86 1018.88L1701.79 1039.32M1676.86 1049.68L1701.79 1070.12M1676.86 1080.48L1701.79 1100.92M1676.86 1111.28L1701.79 1131.72M1676.86 1142.08L1698.71 1160M1701.79 875.46L1726.71 895.9M1701.79 906.26L1726.71 926.7M1701.79 937.06L1726.71 957.5M1701.79 967.86L1726.71 988.3M1701.79 998.66L1726.71 1019.1M1701.79 1029.46L1726.71 1049.9M1701.79 1060.26L1726.71 1080.7M1701.79 1091.06L1726.71 1111.5M1701.79 1121.86L1726.71 1142.3M1701.79 1152.66L1710.73 1160M1726.71 1010.61L1751.64 1031.05M1726.71 1041.41L1751.64 1061.85M1726.71 1072.21L1751.64 1092.65M1726.71 1103.01L1751.64 1123.45M1726.71 1133.81L1751.64 1154.25M1751.64 852.94L1776.56 873.38M1751.64 883.74L1776.56 904.18M1751.64 914.54L1776.56 934.98M1751.64 945.34L1776.56 965.78M1751.64 976.14L1776.56 996.58M1751.64 1006.94L1776.56 1027.38M1751.64 1037.74L1776.56 1058.18M1751.64 1068.54L1776.56 1088.98M1751.64 1099.34L1776.56 1119.78M1751.64 1130.14L1776.56 1150.58M1776.56 1100.7L1801.48 1121.14M1776.56 1131.5L1801.48 1151.94M1801.48 1100.7L1826.41 1121.14M1801.48 1131.5L1826.41 1151.94M1826.41 1033.13L1851.33 1053.57M1826.41 1063.93L1851.33 1084.37M1826.41 1094.73L1851.33 1115.17M1826.41 1125.53L1851.33 1145.97M1826.41 1156.33L1830.88 1160M1851.33 1100.7L1876.26 1121.14M1851.33 1131.5L1876.26 1151.94M1876.26 1100.7L1901.18 1121.14M1876.26 1131.5L1901.18 1151.94" fill="none" stroke="rgba(255,0,0,0.72)" stroke-width="1.05"/>
<g fill="none" stroke="rgba(255,0,0,0.68)" stroke-width="2.8"><rect x="156.8" y="1137.48" width="24.92" height="22.52"/><rect x="181.72" y="1092.43" width="24.92" height="67.57"/><rect x="231.57" y="1114.95" width="24.92" height="45.05"/><rect x="256.5" y="1137.48" width="24.92" height="22.52"/><rect x="356.19" y="1137.48" width="24.92" height="22.52"/><rect x="381.12" y="1114.95" width="24.92" height="45.05"/><rect x="406.04" y="1047.38" width="24.92" height="112.62"/><rect x="430.96" y="1047.38" width="24.92" height="112.62"/><rect x="455.89" y="934.76" width="24.92" height="225.24"/><rect x="480.81" y="934.76" width="24.92" height="225.24"/><rect x="505.74" y="1002.33" width="24.92" height="157.67"/><rect x="530.66" y="867.19" width="24.92" height="292.81"/><rect x="555.58" y="709.52" width="24.92" height="450.48"/><rect x="580.51" y="732.04" width="24.92" height="427.96"/><rect x="605.43" y="732.04" width="24.92" height="427.96"/><rect x="630.36" y="664.47" width="24.92" height="495.53"/><rect x="655.28" y="551.85" width="24.92" height="608.15"/><rect x="680.2" y="506.8" width="24.92" height="653.2"/><rect x="705.13" y="349.14" width="24.92" height="810.86"/><rect x="730.05" y="574.38" width="24.92" height="585.62"/><rect x="754.98" y="574.38" width="24.92" height="585.62"/><rect x="779.9" y="641.95" width="24.92" height="518.05"/><rect x="804.82" y="484.28" width="24.92" height="675.72"/><rect x="829.75" y="709.52" width="24.92" height="450.48"/><rect x="854.67" y="709.52" width="24.92" height="450.48"/><rect x="879.6" y="822.14" width="24.92" height="337.86"/><rect x="904.52" y="709.52" width="24.92" height="450.48"/><rect x="929.44" y="754.57" width="24.92" height="405.43"/><rect x="954.37" y="754.57" width="24.92" height="405.43"/><rect x="979.29" y="844.66" width="24.92" height="315.34"/><rect x="1004.22" y="889.71" width="24.92" height="270.29"/><rect x="1029.14" y="777.09" width="24.92" height="382.91"/><rect x="1054.06" y="912.24" width="24.92" height="247.76"/><rect x="1078.99" y="799.62" width="24.92" height="360.38"/><rect x="1103.91" y="664.47" width="24.92" height="495.53"/><rect x="1128.84" y="732.04" width="24.92" height="427.96"/><rect x="1153.76" y="687" width="24.92" height="473"/><rect x="1178.68" y="551.85" width="24.92" height="608.15"/><rect x="1203.61" y="304.09" width="24.92" height="855.91"/><rect x="1228.53" y="123.9" width="24.92" height="1036.1"/><rect x="1253.46" y="484.28" width="24.92" height="675.72"/><rect x="1278.38" y="78.85" width="24.92" height="1081.15"/><rect x="1303.3" y="236.52" width="24.92" height="923.48"/><rect x="1328.23" y="439.23" width="24.92" height="720.77"/><rect x="1353.15" y="461.76" width="24.92" height="698.24"/><rect x="1378.08" y="529.33" width="24.92" height="630.67"/><rect x="1403" y="596.9" width="24.92" height="563.1"/><rect x="1427.92" y="484.28" width="24.92" height="675.72"/><rect x="1452.85" y="596.9" width="24.92" height="563.1"/><rect x="1477.77" y="799.62" width="24.92" height="360.38"/><rect x="1502.7" y="732.04" width="24.92" height="427.96"/><rect x="1527.62" y="912.24" width="24.92" height="247.76"/><rect x="1552.54" y="777.09" width="24.92" height="382.91"/><rect x="1577.47" y="934.76" width="24.92" height="225.24"/><rect x="1602.39" y="934.76" width="24.92" height="225.24"/><rect x="1627.32" y="979.81" width="24.92" height="180.19"/><rect x="1652.24" y="979.81" width="24.92" height="180.19"/><rect x="1677.16" y="957.28" width="24.92" height="202.72"/><rect x="1702.09" y="844.66" width="24.92" height="315.34"/><rect x="1727.01" y="979.81" width="24.92" height="180.19"/><rect x="1751.94" y="822.14" width="24.92" height="337.86"/><rect x="1776.86" y="1069.9" width="24.92" height="90.1"/><rect x="1801.78" y="1069.9" width="24.92" height="90.1"/><rect x="1826.71" y="1002.33" width="24.92" height="157.67"/><rect x="1851.63" y="1069.9" width="24.92" height="90.1"/><rect x="1876.56" y="1069.9" width="24.92" height="90.1"/></g>
<rect x="156.5" y="33.8" width="1783.7" height="1126.2" fill="none" stroke="#000" stroke-width="3.4"/></g><g><rect x="162.8" y="61.6" width="549.7" height="187.6" fill="#fff" stroke="#000" stroke-width="1.1"/>
<rect x="171.7" y="68.8" width="73.9" height="28.6" fill="#FDCA9B" stroke="rgba(0,0,0,0.72)" stroke-width="2.6"/>
<rect x="171.7" y="105.6" width="73.9" height="28.6" fill="#FF0000" stroke="#000" stroke-width="2.6"/>
<rect x="172.6" y="142.4" width="73.9" height="28.6" fill="rgba(0,0,255,0.6)" stroke="rgba(0,0,0,0.6)" stroke-width="2.6"/>
<rect x="172.6" y="178.7" width="73.9" height="28.6" fill="rgba(0,255,255,0.333)" stroke="rgba(0,0,0,0.34)" stroke-width="2.6"/>
<path d="M172.6 214.6L206.65 243.2M209.3 214.6L243.35 243.2" fill="none" stroke="rgba(255,0,0,0.9)" stroke-width="1.4"/>
<rect x="172.6" y="214.6" width="73.9" height="28.6" fill="none" stroke="rgba(255,0,0,0.68)" stroke-width="2.8"/></g><g fill="#000" stroke="#fff" stroke-width="0.7" font-family="'Liberation Serif','DejaVu Serif',serif"><text transform="scale(1.1,1)" x="103.18 129.55 148.38 180.45" y="1217.4" font-size="48" text-anchor="middle">−0.5</text>
<text transform="scale(1.1,1)" x="293.07 311.91 343.98" y="1217.4" font-size="48" text-anchor="middle">0.0</text>
<text transform="scale(1.1,1)" x="469.33 488.16 520.24" y="1217.4" font-size="48" text-anchor="middle">0.5</text>
<text transform="scale(1.1,1)" x="645.58 664.42 696.49" y="1217.4" font-size="48" text-anchor="middle">1.0</text>
<text transform="scale(1.1,1)" x="821.84 840.67 872.75" y="1217.4" font-size="48" text-anchor="middle">1.5</text>
<text transform="scale(1.1,1)" x="998.09 1016.93 1049" y="1217.4" font-size="48" text-anchor="middle">2.0</text>
<text transform="scale(1.1,1)" x="1174.35 1193.18 1225.26" y="1217.4" font-size="48" text-anchor="middle">2.5</text>
<text transform="scale(1.1,1)" x="1350.6 1369.44 1401.51" y="1217.4" font-size="48" text-anchor="middle">3.0</text>
<text transform="scale(1.1,1)" x="1526.86 1545.69 1577.77" y="1217.4" font-size="48" text-anchor="middle">3.5</text>
<text transform="scale(1.1,1)" x="1703.11 1721.95 1754.02" y="1217.4" font-size="48" text-anchor="middle">4.0</text>
<text transform="scale(1.1,1)" x="110" y="1178.2" font-size="48" text-anchor="middle">0</text>
<text transform="scale(1.1,1)" x="84.55 110" y="952.96" font-size="48" text-anchor="middle">10</text>
<text transform="scale(1.1,1)" x="84.55 110" y="727.72" font-size="48" text-anchor="middle">20</text>
<text transform="scale(1.1,1)" x="84.55 110" y="502.48" font-size="48" text-anchor="middle">30</text>
<text transform="scale(1.1,1)" x="84.55 110" y="277.24" font-size="48" text-anchor="middle">40</text>
<text transform="scale(1.1,1)" x="84.55 110" y="52" font-size="48" text-anchor="middle">50</text>
<text aria-label="Ground-Transit" font-size="34" font-weight="normal" stroke-width="0.45" text-anchor="middle"><tspan x="277.8" y="94.8" textLength="19.2" lengthAdjust="spacingAndGlyphs">G</tspan><tspan x="297.8" y="94.8" textLength="13.47" lengthAdjust="spacingAndGlyphs">r</tspan><tspan x="317.8" y="94.8" textLength="19.2" lengthAdjust="spacingAndGlyphs">o</tspan><tspan x="337.8" y="94.8" textLength="19.2" lengthAdjust="spacingAndGlyphs">u</tspan><tspan x="357.8" y="94.8" textLength="19.2" lengthAdjust="spacingAndGlyphs">n</tspan><tspan x="377.8" y="94.8" textLength="19.2" lengthAdjust="spacingAndGlyphs">d</tspan><tspan x="397.8" y="87.23" font-size="17" stroke="none" textLength="18" lengthAdjust="spacingAndGlyphs">-</tspan><tspan x="417.8" y="94.8" textLength="19.2" lengthAdjust="spacingAndGlyphs">T</tspan><tspan x="437.8" y="94.8" textLength="13.47" lengthAdjust="spacingAndGlyphs">r</tspan><tspan x="457.8" y="94.8" textLength="17.96" lengthAdjust="spacingAndGlyphs">a</tspan><tspan x="477.8" y="94.8" textLength="19.2" lengthAdjust="spacingAndGlyphs">n</tspan><tspan x="497.8" y="94.8" textLength="15.75" lengthAdjust="spacingAndGlyphs">s</tspan><tspan x="517.8" y="94.8" textLength="11.24" lengthAdjust="spacingAndGlyphs">i</tspan><tspan x="537.8" y="94.8" textLength="11.24" lengthAdjust="spacingAndGlyphs">t</tspan></text>
<text aria-label="Ground-Radial Velocity" font-size="34" font-weight="normal" stroke-width="0.45" text-anchor="middle"><tspan x="277.8" y="131.5" textLength="19.2" lengthAdjust="spacingAndGlyphs">G</tspan><tspan x="297.8" y="131.5" textLength="13.47" lengthAdjust="spacingAndGlyphs">r</tspan><tspan x="317.8" y="131.5" textLength="19.2" lengthAdjust="spacingAndGlyphs">o</tspan><tspan x="337.8" y="131.5" textLength="19.2" lengthAdjust="spacingAndGlyphs">u</tspan><tspan x="357.8" y="131.5" textLength="19.2" lengthAdjust="spacingAndGlyphs">n</tspan><tspan x="377.8" y="131.5" textLength="19.2" lengthAdjust="spacingAndGlyphs">d</tspan><tspan x="397.8" y="123.94" font-size="17" stroke="none" textLength="18" lengthAdjust="spacingAndGlyphs">-</tspan><tspan x="417.8" y="131.5" textLength="19.2" lengthAdjust="spacingAndGlyphs">R</tspan><tspan x="437.8" y="131.5" textLength="17.96" lengthAdjust="spacingAndGlyphs">a</tspan><tspan x="457.8" y="131.5" textLength="19.2" lengthAdjust="spacingAndGlyphs">d</tspan><tspan x="477.8" y="131.5" textLength="11.24" lengthAdjust="spacingAndGlyphs">i</tspan><tspan x="497.8" y="131.5" textLength="17.96" lengthAdjust="spacingAndGlyphs">a</tspan><tspan x="517.8" y="131.5" textLength="11.24" lengthAdjust="spacingAndGlyphs">l</tspan> <tspan x="557.8" y="131.5" textLength="19.2" lengthAdjust="spacingAndGlyphs">V</tspan><tspan x="577.8" y="131.5" textLength="17.96" lengthAdjust="spacingAndGlyphs">e</tspan><tspan x="597.8" y="131.5" textLength="11.24" lengthAdjust="spacingAndGlyphs">l</tspan><tspan x="617.8" y="131.5" textLength="19.2" lengthAdjust="spacingAndGlyphs">o</tspan><tspan x="637.8" y="131.5" textLength="17.96" lengthAdjust="spacingAndGlyphs">c</tspan><tspan x="657.8" y="131.5" textLength="11.24" lengthAdjust="spacingAndGlyphs">i</tspan><tspan x="677.8" y="131.5" textLength="11.24" lengthAdjust="spacingAndGlyphs">t</tspan><tspan x="697.8" y="131.5" textLength="19.2" lengthAdjust="spacingAndGlyphs">y</tspan></text>
<text aria-label="Ground-Imaging" font-size="34" font-weight="normal" stroke-width="0.45" text-anchor="middle"><tspan x="277.8" y="168.2" textLength="19.2" lengthAdjust="spacingAndGlyphs">G</tspan><tspan x="297.8" y="168.2" textLength="13.47" lengthAdjust="spacingAndGlyphs">r</tspan><tspan x="317.8" y="168.2" textLength="19.2" lengthAdjust="spacingAndGlyphs">o</tspan><tspan x="337.8" y="168.2" textLength="19.2" lengthAdjust="spacingAndGlyphs">u</tspan><tspan x="357.8" y="168.2" textLength="19.2" lengthAdjust="spacingAndGlyphs">n</tspan><tspan x="377.8" y="168.2" textLength="19.2" lengthAdjust="spacingAndGlyphs">d</tspan><tspan x="397.8" y="160.63" font-size="17" stroke="none" textLength="18" lengthAdjust="spacingAndGlyphs">-</tspan><tspan x="417.8" y="168.2" textLength="13.47" lengthAdjust="spacingAndGlyphs">I</tspan><tspan x="437.8" y="168.2" textLength="19.2" lengthAdjust="spacingAndGlyphs">m</tspan><tspan x="457.8" y="168.2" textLength="17.96" lengthAdjust="spacingAndGlyphs">a</tspan><tspan x="477.8" y="168.2" textLength="19.2" lengthAdjust="spacingAndGlyphs">g</tspan><tspan x="497.8" y="168.2" textLength="11.24" lengthAdjust="spacingAndGlyphs">i</tspan><tspan x="517.8" y="168.2" textLength="19.2" lengthAdjust="spacingAndGlyphs">n</tspan><tspan x="537.8" y="168.2" textLength="19.2" lengthAdjust="spacingAndGlyphs">g</tspan></text>
<text aria-label="Space-Transit" font-size="34" font-weight="normal" stroke-width="0.45" text-anchor="middle"><tspan x="277.8" y="204.9" textLength="19.2" lengthAdjust="spacingAndGlyphs">S</tspan><tspan x="297.8" y="204.9" textLength="19.2" lengthAdjust="spacingAndGlyphs">p</tspan><tspan x="317.8" y="204.9" textLength="17.96" lengthAdjust="spacingAndGlyphs">a</tspan><tspan x="337.8" y="204.9" textLength="17.96" lengthAdjust="spacingAndGlyphs">c</tspan><tspan x="357.8" y="204.9" textLength="17.96" lengthAdjust="spacingAndGlyphs">e</tspan><tspan x="377.8" y="197.34" font-size="17" stroke="none" textLength="18" lengthAdjust="spacingAndGlyphs">-</tspan><tspan x="397.8" y="204.9" textLength="19.2" lengthAdjust="spacingAndGlyphs">T</tspan><tspan x="417.8" y="204.9" textLength="13.47" lengthAdjust="spacingAndGlyphs">r</tspan><tspan x="437.8" y="204.9" textLength="17.96" lengthAdjust="spacingAndGlyphs">a</tspan><tspan x="457.8" y="204.9" textLength="19.2" lengthAdjust="spacingAndGlyphs">n</tspan><tspan x="477.8" y="204.9" textLength="15.75" lengthAdjust="spacingAndGlyphs">s</tspan><tspan x="497.8" y="204.9" textLength="11.24" lengthAdjust="spacingAndGlyphs">i</tspan><tspan x="517.8" y="204.9" textLength="11.24" lengthAdjust="spacingAndGlyphs">t</tspan></text>
<text x="268" y="241.6" font-size="34" font-weight="bold" stroke="none" textLength="59.5" lengthAdjust="spacingAndGlyphs">ALL</text>
<text aria-label="Log10(M⊕)" font-size="52" text-anchor="middle"><tspan x="923.45" y="1293" textLength="29.66" lengthAdjust="spacingAndGlyphs">L</tspan><tspan x="954.35" y="1293" textLength="29.66" lengthAdjust="spacingAndGlyphs">o</tspan><tspan x="985.25" y="1293" textLength="29.66" lengthAdjust="spacingAndGlyphs">g</tspan><tspan x="1016.15" y="1293" textLength="29.66" lengthAdjust="spacingAndGlyphs">1</tspan><tspan x="1047.05" y="1293" textLength="29.66" lengthAdjust="spacingAndGlyphs">0</tspan><tspan x="1082.28" y="1289" textLength="20.61" lengthAdjust="spacingAndGlyphs">(</tspan><tspan x="1108.85" y="1293" textLength="29.66" lengthAdjust="spacingAndGlyphs">M</tspan><tspan x="1141" y="1307.6" font-size="36" textLength="36" lengthAdjust="spacingAndGlyphs" stroke-width="1.3" font-family="'DejaVu Sans','DejaVu Serif',sans-serif">⊕</tspan><tspan x="1167" y="1289" textLength="20.61" lengthAdjust="spacingAndGlyphs">)</tspan></text>
<text transform="translate(59,596.9) scale(1.19,1) rotate(-90)" aria-label="Count" font-size="54" text-anchor="middle"><tspan x="-52.2" y="0" textLength="25.06" lengthAdjust="spacingAndGlyphs">C</tspan><tspan x="-26.1" y="0" textLength="25.06" lengthAdjust="spacingAndGlyphs">o</tspan><tspan x="0" y="0" textLength="25.06" lengthAdjust="spacingAndGlyphs">u</tspan><tspan x="26.1" y="0" textLength="25.06" lengthAdjust="spacingAndGlyphs">n</tspan><tspan x="52.2" y="0" textLength="15" lengthAdjust="spacingAndGlyphs">t</tspan></text></g></svg>
</body></html>
